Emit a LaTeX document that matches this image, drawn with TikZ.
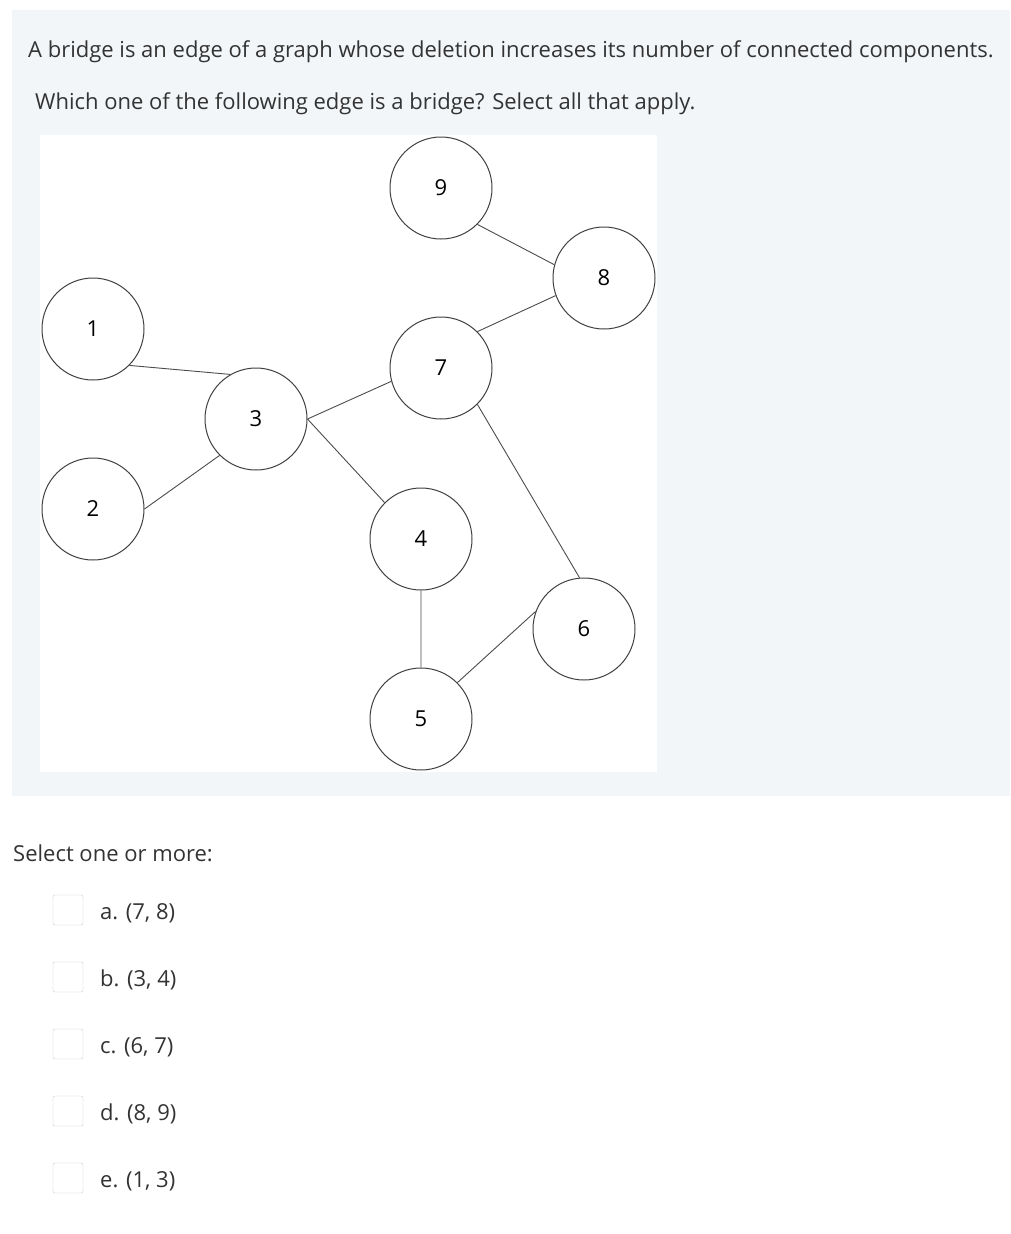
\documentclass[tikz,border=0pt]{standalone}
\usepackage{fontspec}
\setmainfont{Open Sans}
\begin{document}
\begin{tikzpicture}[x=1pt,y=-1pt,
  vtx/.style={circle,draw=black!75,line width=1pt,minimum size=102pt,inner sep=0pt,font=\fontsize{22}{26}\selectfont},
  edge/.style={draw=black!70,line width=0.9pt},
  txt/.style={anchor=west,text=black!80,font=\fontsize{22}{26}\selectfont,inner sep=0pt},
  cbox/.style={draw=black!20,rounded corners=2pt,minimum size=30pt,inner sep=0pt,fill=white}]
\useasboundingbox (0,0) rectangle (1010,1234);
\fill[white] (0,0) rectangle (1010,1234);
\fill[fill={rgb,255:red,243;green,246;blue,249}] (12,10) rectangle (1010,796);
\fill[white] (40,135) rectangle (657,772);
\node[txt] (t1) at (28,52) {A bridge is an edge of a graph whose deletion increases its number of connected components.};
\node[txt] (t2) at (35,104) {Which one of the following edge is a bridge? Select all that apply.};
\node[vtx] (n9) at (441,188) {9};
\node[vtx] (n8) at (604,278) {8};
\node[vtx] (n1) at (93,329) {1};
\node[vtx] (n7) at (441,368) {7};
\node[vtx] (n3) at (256,419) {3};
\node[vtx] (n2) at (93,509) {2};
\node[vtx] (n4) at (421,539) {4};
\node[vtx] (n6) at (584,629) {6};
\node[vtx] (n5) at (421,719) {5};
\draw[edge] (n9.-45)--(n8.165) (n7.45)--(n8.-160) (n1.-45)--(n3.120) (n3.0)--(n7.195)
  (n2.0)--(n3.-135) (n3.0)--(n4.135) (n7.-45)--(n6.95) (n4.-90)--(n5.90) (n5.45)--(n6.160);
\node[txt] (sel) at (13,853) {Select one or more:};
\foreach \y/\l/\n in {913/{a. (7, 8)}/a,980/{b. (3, 4)}/b,1047/{c. (6, 7)}/c,1114/{d. (8, 9)}/d,1181/{e. (1, 3)}/e}{
  \node[cbox] (cb\n) at (68,\y-3) {};
  \node[txt] (lb\n) at (100,\y) {\l};
}
\end{tikzpicture}
\end{document}
